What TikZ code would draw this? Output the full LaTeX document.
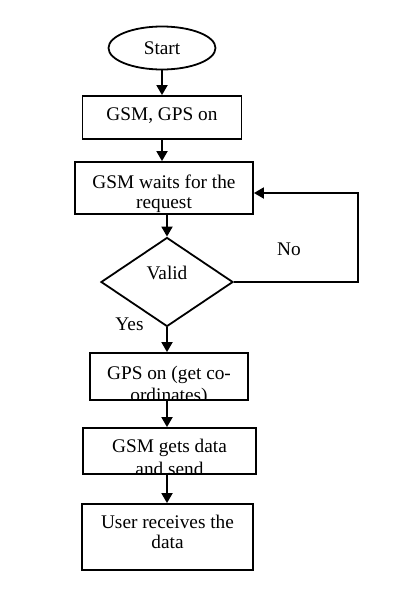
\documentclass[tikz,border=0pt]{standalone}
\usepackage{fontspec}
\setmainfont{Liberation Serif}
\usetikzlibrary{shapes.geometric,arrows.meta}

\begin{document}
\begin{tikzpicture}[x=1pt,y=-1pt,
    every node/.style={font=\fontsize{19.3}{20}\selectfont},
    box/.style={draw, rectangle, line width=1.8pt, inner sep=0pt},
    flow/.style={line width=1.8pt, -{Triangle[length=10pt,width=11pt]}}]
  \useasboundingbox (0,0) rectangle (402,592);

  % start of the chart
  \node [draw, ellipse, line width=1.8pt, minimum width=107pt,
    minimum height=43pt, inner sep=0pt] (start) at (162,48) {Start};

  % the boxes: name/centre x/centre y/width/height/top of text/text
  % the text is clipped by the box, as in the original
  \foreach \n/\x/\y/\w/\h/\t/\s in {
    on/162/117.5/159/43/11/{GSM, GPS on},
    wait/164/188/178/52/12/{GSM waits for the\\request},
    gps/169/376.5/158/47/12/{GPS on (get co-\\[2.5pt]ordinates)},
    send/169.5/451/173/46/10.5/{GSM gets data\\[2.5pt]and send},
    user/167.5/537/171/66/10.5/{User receives the\\data}%
  } {
    \node [box, minimum width=\w pt, minimum height=\h pt,
      path picture={
        \node [anchor=north, inner sep=0pt, align=center,
          minimum width=0pt, minimum height=0pt]
          at ([yshift=-\t pt]path picture bounding box.north) {\s};
      }] (\n) at (\x,\y) {};
  }

  % the decision
  \node [draw, diamond, line width=1.8pt, minimum width=132pt,
    minimum height=89pt, inner sep=0pt, text depth=18pt] (valid) at (167,282) {Valid};
  \node (no) at (289,249) {No};
  \node (yes) at (129.5,324) {Yes};
  \coordinate (loop) at (358,282);

  % connectors
  \draw [flow] (start) -- (on);
  \draw [flow] (on.south) -- (on.south |- wait.north);
  \draw [flow] (valid.north |- wait.south) -- (valid.north);
  \draw [flow] (valid.south) -- (valid.south |- gps.north);
  \draw [flow] (valid.south |- gps.south) -- (valid.south |- send.north);
  \draw [flow] (valid.south |- send.south) -- (valid.south |- user.north);
  \draw [flow] (valid.east) -- (loop) |- ([yshift=-5pt]wait.east);
\end{tikzpicture}
\end{document}
